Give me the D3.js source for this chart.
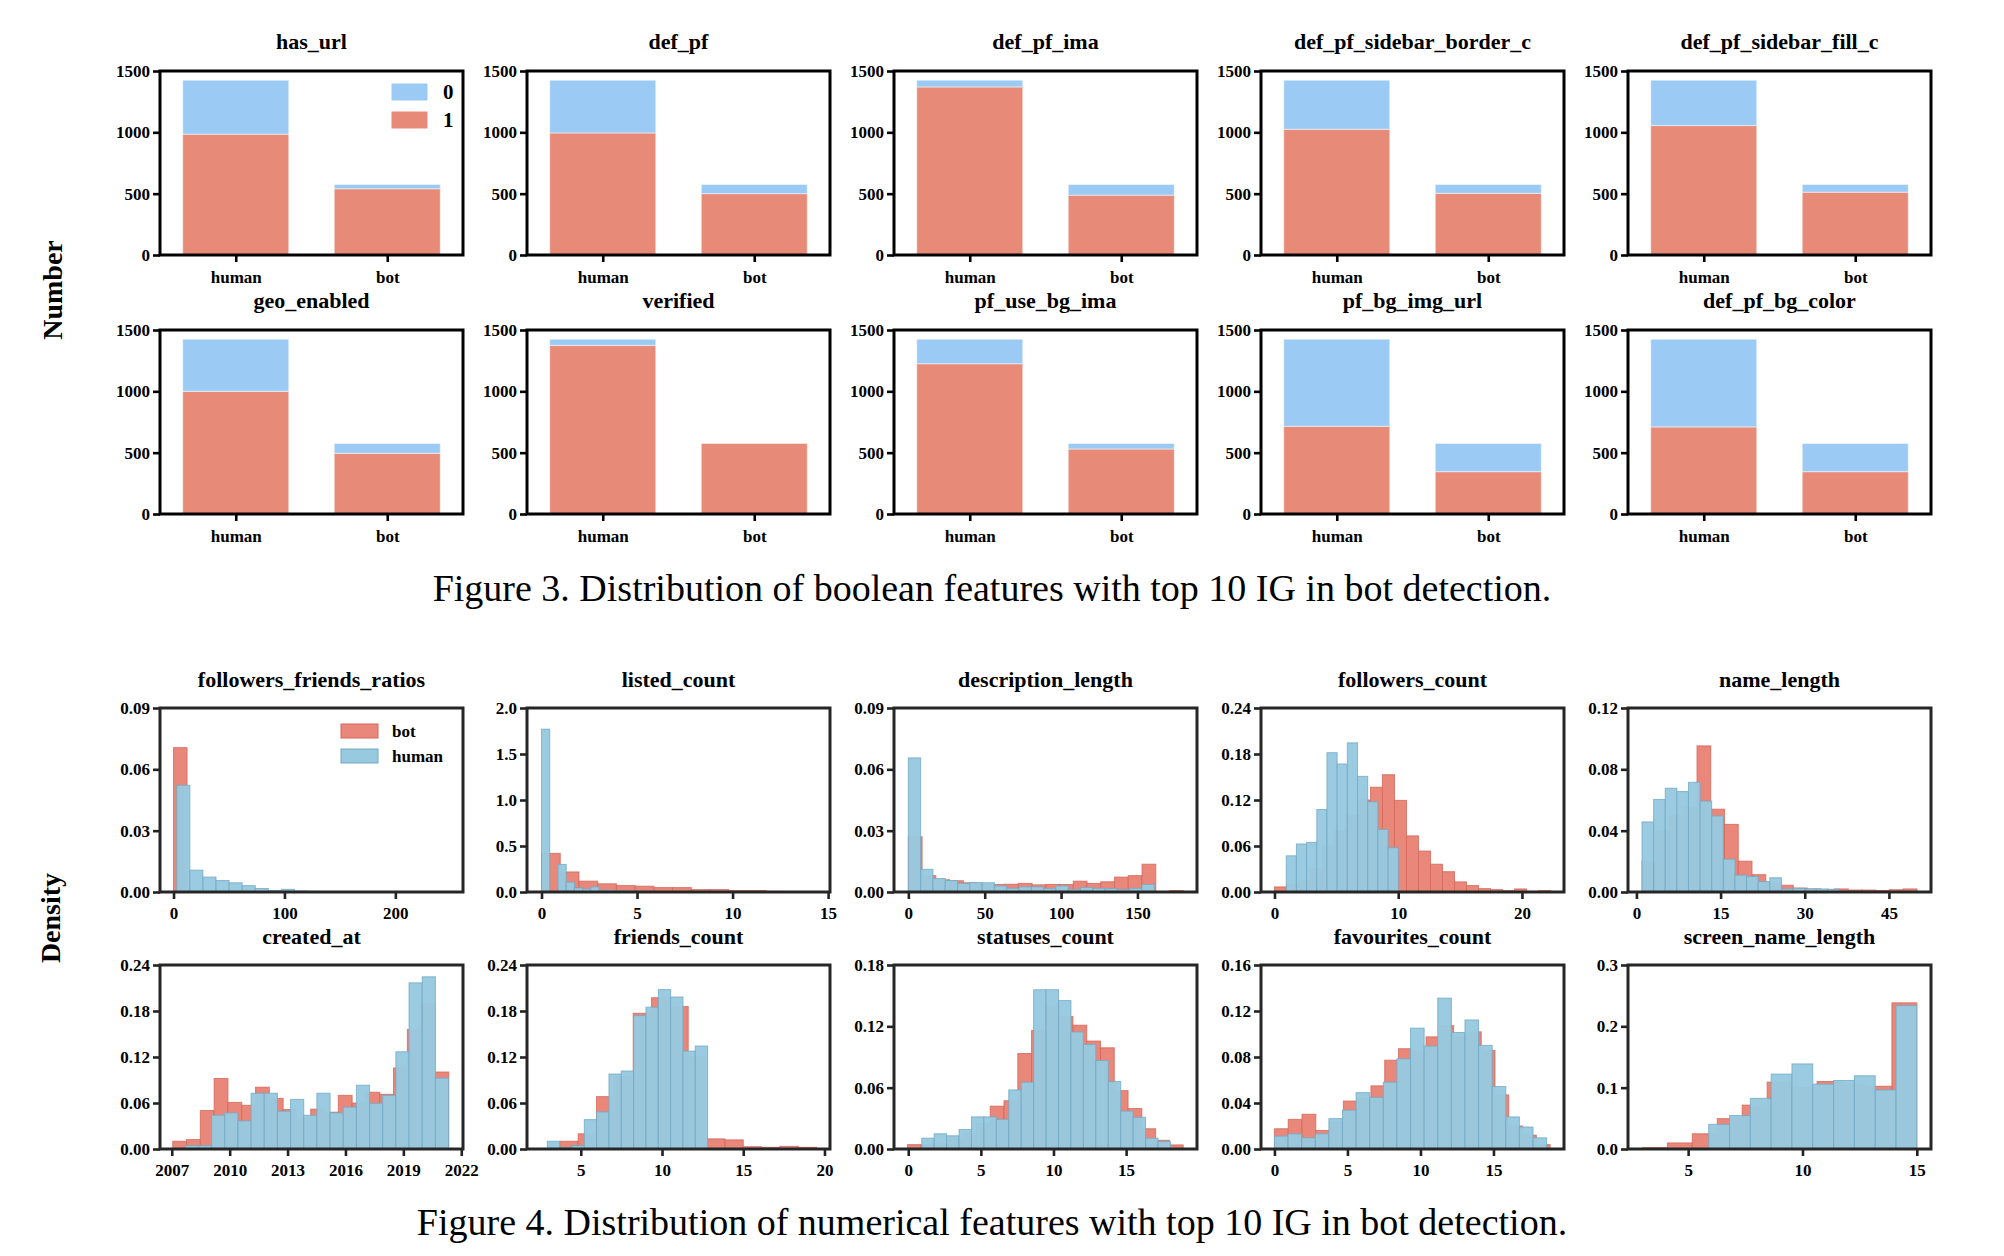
<!DOCTYPE html>
<html><head><meta charset="utf-8">
<script src="https://cdn.jsdelivr.net/npm/d3@7"></script>
<style>
body{margin:0;background:#fff}
svg{display:block}
text{font-family:"Liberation Serif","Times New Roman",serif}
</style>
</head><body>
<svg id="chart" width="2004" height="1256"></svg>
<script>
// ---------------- DATA: Figure 3 (boolean features) ----------------
const boolFeatures = ["has_url","def_pf","def_pf_ima","def_pf_sidebar_border_c","def_pf_sidebar_fill_c",
                      "geo_enabled","verified","pf_use_bg_ima","pf_bg_img_url","def_pf_bg_color"];
const classes = ["human","bot"];
const classTotals = [1425, 575];
const humanValue1 = [985, 995, 1370, 1025, 1055, 1000, 1375, 1225, 715, 710];
const botValue1   = [540, 500, 488, 503, 512, 495, 575, 530, 345, 345];
const boolYTicks = [0, 500, 1000, 1500];
const boolLegend = ["0", "1"];

// ---------------- DATA: Figure 4 (numerical features) ----------------
const numFeatures = ["followers_friends_ratios","listed_count","description_length","followers_count","name_length",
                     "created_at","friends_count","statuses_count","favourites_count","screen_name_length"];
// x limits of each panel
const numXLim = [[-12.2,261],[-0.76,15.1],[-9.4,189],[-1.09,23.4],[-1.5,52.5],
                 [2006.39,2022.09],[1.69,20.34],[-0.98,19.88],[-0.92,19.83],[2.37,15.62]];
const numXTicks = [[0,100,200],[0,5,10,15],[0,50,100,150],[0,10,20],[0,15,30,45],
                   [2007,2010,2013,2016,2019,2022],[5,10,15,20],[0,5,10,15],[0,5,10,15],[5,10,15]];
const numYTicks = [[0,0.03,0.06,0.09],[0,0.5,1.0,1.5,2.0],[0,0.03,0.06,0.09],[0,0.06,0.12,0.18,0.24],[0,0.04,0.08,0.12],
                   [0,0.06,0.12,0.18,0.24],[0,0.06,0.12,0.18,0.24],[0,0.06,0.12,0.18],[0,0.04,0.08,0.12,0.16],[0,0.1,0.2,0.3]];
const numYLabels = [["0.00","0.03","0.06","0.09"],["0.0","0.5","1.0","1.5","2.0"],["0.00","0.03","0.06","0.09"],
                    ["0.00","0.06","0.12","0.18","0.24"],["0.00","0.04","0.08","0.12"],["0.00","0.06","0.12","0.18","0.24"],
                    ["0.00","0.06","0.12","0.18","0.24"],["0.00","0.06","0.12","0.18"],["0.00","0.04","0.08","0.12","0.16"],
                    ["0.0","0.1","0.2","0.3"]];
// bins: [first edge, bin width] ; heights = density per bin
const ffrBotBins = [0, 12.2];
const ffrBot = [0.0706,0.0006,0.0003,0.0002,0.0001,0.0001,0,0,0,0,0,0,0,0,0,0,0,0,0,0.0001];
const ffrHumanBins = [2.9, 11.8];
const ffrHuman = [0.0522,0.0107,0.0073,0.0056,0.0045,0.0031,0.0017,0.0007,0.0013,0.0005,0.0003,0.0002,0.0001,0.0001,0.0001,0,0,0,0,0.0001];

const listedBotBins = [0, 0.98];
const listedBot = [0.42,0.218,0.118,0.089,0.07,0.063,0.048,0.048,0.026,0.026,0.015,0.015,0.007,0.004,0.003];
const listedHumanBins = [0, 0.43];
const listedHuman = [1.77,0,0.30,0.107,0.044,0.033,0.055,0.02,0.02,0.015,0.012,0.01,0.008,0.006,0.005,0.004,0.003,0.002,0.002,0.001];

const descBotBins = [0, 9.0];
const descBot = [0.027,0.008,0.006,0.0055,0.0045,0.004,0.0037,0.0038,0.0042,0.0035,0.0037,0.0037,0.0053,0.0042,0.005,0.0073,0.008,0.0136,0,0.0007];
const descHumanBins = [0, 8.05];
const descHuman = [0.0656,0.0111,0.0066,0.0056,0.0042,0.0046,0.0045,0.003,0.0018,0.0025,0.0025,0.0017,0.003,0.0013,0.0022,0.0018,0.0017,0.0013,0.0018,0.0037];

const followersBotBins = [0, 0.97];
const followersBot = [0.0066,0.01,0.015,0.03,0.06,0.08,0.1,0.12,0.1367,0.153,0.1195,0.0732,0.0534,0.0362,0.0265,0.0132,0.0084,0.0044,0.0031,0.0018,0.004,0.0009,0.0018];
const followersHumanBins = [0.95, 0.823];
const followersHuman = [0.0472,0.0626,0.0648,0.1076,0.1817,0.167,0.1945,0.1508,0.1177,0.0816,0.0578];

const nameBotBins = [1, 2.45];
const nameBot = [0.02,0.04,0.05,0.055,0.0953,0.054,0.0441,0.0201,0.0113,0.0055,0.0044,0.0026,0.002,0.0015,0.002,0.0013,0.0013,0.001,0.0015,0.002];
const nameHumanBins = [1, 2.07];
const nameHuman = [0.0457,0.0604,0.0677,0.0655,0.0715,0.0593,0.0496,0.0214,0.011,0.0101,0.0068,0.0093,0.002,0.0024,0.002,0.002,0.0018,0.0005,0.0003,0.0002];

const createdBotBins = [2007.05, 0.715];
const createdBot = [0.0101,0.0123,0.0502,0.092,0.0608,0.057,0.0806,0.066,0.0515,0.04,0.052,0.048,0.07,0.06,0.074,0.0713,0.1057,0.156,0.19,0.1004];
const createdHumanBins = [2007.7, 0.682];
const createdHuman = [0.0044,0.0044,0.044,0.0471,0.0366,0.0727,0.0727,0.0493,0.0647,0.044,0.0727,0.0471,0.0546,0.0832,0.0595,0.07,0.1268,0.2167,0.2246,0.0925];

const friendsBotBins = [3.71, 1.129];
const friendsBot = [0.0101,0.0198,0.0683,0.095,0.177,0.1973,0.1858,0.12,0.0132,0.0119,0.003,0.0022,0.0035,0.0022];
const friendsHumanBins = [2.94, 0.759];
const friendsHuman = [0.0101,0.0022,0.0044,0.0383,0.0484,0.0978,0.1017,0.174,0.185,0.2079,0.1982,0.1277,0.1343];

const statusesBotBins = [-0.05, 0.949];
const statusesBot = [0.0043,0.004,0.005,0.01,0.015,0.025,0.0419,0.0472,0.0934,0.116,0.14,0.1297,0.1211,0.1056,0.099,0.0571,0.0396,0.0198,0.0085,0.004];
const statusesHumanBins = [0.93, 0.856];
const statusesHuman = [0.0106,0.0149,0.0129,0.0191,0.0314,0.0314,0.029,0.0578,0.0653,0.1558,0.1558,0.1452,0.1145,0.1023,0.0865,0.066,0.037,0.031,0.0106,0.0073];

const favouritesBotBins = [0, 0.944];
const favouritesBot = [0.0176,0.0258,0.0302,0.0161,0.024,0.0417,0.044,0.0549,0.0772,0.0872,0.085,0.0975,0.1072,0.098,0.1019,0.0857,0.047,0.02,0.012,0.0038];
const favouritesHumanBins = [0, 0.932];
const favouritesHuman = [0.0112,0.0132,0.0097,0.0132,0.0264,0.0338,0.049,0.0449,0.0581,0.0784,0.1051,0.0895,0.1312,0.1013,0.1122,0.0901,0.0543,0.0279,0.0191,0.0097];

const screenBotBins = [3.0, 1.091];
const screenBot = [0.0022,0.0099,0.0248,0.0495,0.0715,0.109,0.1,0.11,0.105,0.1023,0.2383];
const screenHumanBins = [5.9, 0.91];
const screenHuman = [0.0402,0.0545,0.0826,0.1221,0.1387,0.1057,0.1117,0.1194,0.0963,0.2339];

const numLegend = ["bot", "human"];

const botSeries = [[ffrBotBins,ffrBot],[listedBotBins,listedBot],[descBotBins,descBot],[followersBotBins,followersBot],[nameBotBins,nameBot],
                   [createdBotBins,createdBot],[friendsBotBins,friendsBot],[statusesBotBins,statusesBot],[favouritesBotBins,favouritesBot],[screenBotBins,screenBot]];
const humanSeries = [[ffrHumanBins,ffrHuman],[listedHumanBins,listedHuman],[descHumanBins,descHuman],[followersHumanBins,followersHuman],[nameHumanBins,nameHuman],
                     [createdHumanBins,createdHuman],[friendsHumanBins,friendsHuman],[statusesHumanBins,statusesHuman],[favouritesHumanBins,favouritesHuman],[screenHumanBins,screenHuman]];

// ---------------- LAYOUT / STYLE ----------------
const FONT = '"Liberation Serif","Times New Roman",serif';
const svg = d3.select("#chart");
const colLeft = [160, 527, 894, 1261, 1628];
const PW = 303, PH = 184;
const fig3Top = [71, 330];
const fig4Top = [708, 965];
const C_BLUE3 = "#9bcbf4", C_RED3 = "#e88a78";
const C_BOT = "#e8877a", C_BOT_EDGE = "#d4685a";
const C_HUM = "#97c9df", C_HUM_EDGE = "#72aac6";

function styleAxis(g, color, size) {
  g.attr("font-family", FONT).attr("font-size", size).attr("font-weight", "bold");
  g.select(".domain").remove();
  g.selectAll(".tick line").attr("stroke", color).attr("stroke-width", 2.6);
  g.selectAll(".tick text").attr("fill", "#000");
}

function title(x, y, txt) {
  svg.append("text").attr("x", x).attr("y", y).attr("text-anchor", "middle")
    .attr("font-size", 22).attr("font-weight", "bold").text(txt);
}

// ---------------- FIGURE 3 ----------------
boolFeatures.forEach((name, i) => {
  const r = Math.floor(i / 5), c = i % 5;
  const x0 = colLeft[c], y0 = fig3Top[r];
  const g = svg.append("g");
  const x = d3.scaleLinear().domain([-0.5, 1.5]).range([x0, x0 + PW]);
  const y = d3.scaleLinear().domain([0, 1500]).range([y0 + PH, y0]);
  const ones = [humanValue1[i], botValue1[i]];
  const bw = x(0.35) - x(-0.35);
  classes.forEach((cl, k) => {
    g.append("rect").attr("x", x(k - 0.35)).attr("width", bw)
      .attr("y", y(ones[k])).attr("height", y(0) - y(ones[k]))
      .attr("fill", C_RED3).attr("stroke", "#fff").attr("stroke-opacity", 0.5).attr("stroke-width", 1);
    const zeros = classTotals[k] - ones[k];
    if (zeros > 0) {
      g.append("rect").attr("x", x(k - 0.35)).attr("width", bw)
        .attr("y", y(classTotals[k])).attr("height", y(ones[k]) - y(classTotals[k]))
        .attr("fill", C_BLUE3).attr("stroke", "#fff").attr("stroke-opacity", 0.5).attr("stroke-width", 1);
    }
  });
  const ya = g.append("g").attr("transform", `translate(${x0},0)`)
    .call(d3.axisLeft(y).tickValues(boolYTicks).tickSize(7).tickPadding(3).tickFormat(d3.format("d")));
  styleAxis(ya, "#000", 17);
  const xa = g.append("g").attr("transform", `translate(0,${y0 + PH})`)
    .call(d3.axisBottom(x).tickValues([0, 1]).tickSize(7).tickPadding(9).tickFormat(d => classes[d]));
  styleAxis(xa, "#000", 17);
  g.append("rect").attr("x", x0).attr("y", y0).attr("width", PW).attr("height", PH)
    .attr("fill", "none").attr("stroke", "#000").attr("stroke-width", 3);
  title(x0 + PW / 2, y0 - 22, name);
  if (i === 0) {
    const lg = g.append("g");
    [C_BLUE3, C_RED3].forEach((col, k) => {
      lg.append("rect").attr("x", x0 + 231).attr("y", y0 + 12 + k * 28).attr("width", 37).attr("height", 18)
        .attr("fill", col).attr("stroke", "#fff").attr("stroke-width", 1);
      lg.append("text").attr("x", x0 + 283).attr("y", y0 + 28 + k * 28)
        .attr("font-size", 21).attr("font-weight", "bold").text(boolLegend[k]);
    });
  }
});

svg.append("text").attr("transform", "translate(62,290) rotate(-90)").attr("text-anchor", "middle")
  .attr("font-size", 28).attr("font-weight", "bold").text("Number");
svg.append("text").attr("x", 992).attr("y", 601).attr("text-anchor", "middle")
  .attr("font-size", 38).text("Figure 3. Distribution of boolean features with top 10 IG in bot detection.");

// ---------------- FIGURE 4 ----------------
numFeatures.forEach((name, i) => {
  const r = Math.floor(i / 5), c = i % 5;
  const x0 = colLeft[c], y0 = fig4Top[r];
  const g = svg.append("g");
  const x = d3.scaleLinear().domain(numXLim[i]).range([x0, x0 + PW]);
  const yt = numYTicks[i];
  const y = d3.scaleLinear().domain([0, yt[yt.length - 1]]).range([y0 + PH, y0]);
  const drawHist = (series, fill, edge, op) => {
    const [bins, hs] = series;
    g.append("g").selectAll("rect").data(hs).join("rect")
      .attr("x", (d, k) => x(bins[0] + k * bins[1]))
      .attr("width", (d, k) => x(bins[0] + (k + 1) * bins[1]) - x(bins[0] + k * bins[1]))
      .attr("y", d => y(d)).attr("height", d => y(0) - y(d))
      .attr("fill", fill).attr("fill-opacity", op)
      .attr("stroke", edge).attr("stroke-width", 1).attr("stroke-opacity", 0.8);
  };
  drawHist(botSeries[i], C_BOT, C_BOT_EDGE, 1);
  drawHist(humanSeries[i], C_HUM, C_HUM_EDGE, 0.97);
  const ya = g.append("g").attr("transform", `translate(${x0},0)`)
    .call(d3.axisLeft(y).tickValues(yt).tickSize(7).tickPadding(3).tickFormat((d, k) => numYLabels[i][k]));
  styleAxis(ya, "#222", 17);
  const xa = g.append("g").attr("transform", `translate(0,${y0 + PH})`)
    .call(d3.axisBottom(x).tickValues(numXTicks[i]).tickSize(7).tickPadding(8).tickFormat(d3.format("d")));
  styleAxis(xa, "#222", 17);
  g.append("rect").attr("x", x0).attr("y", y0).attr("width", PW).attr("height", PH)
    .attr("fill", "none").attr("stroke", "#262626").attr("stroke-width", 3);
  title(x0 + PW / 2, y0 - 21, name);
  if (i === 0) {
    [[C_BOT, C_BOT_EDGE], [C_HUM, C_HUM_EDGE]].forEach((cc, k) => {
      g.append("rect").attr("x", x0 + 181).attr("y", y0 + 16 + k * 25).attr("width", 37).attr("height", 14)
        .attr("fill", cc[0]).attr("stroke", cc[1]).attr("stroke-width", 1);
      g.append("text").attr("x", x0 + 232).attr("y", y0 + 29 + k * 25)
        .attr("font-size", 17).attr("font-weight", "bold").text(numLegend[k]);
    });
  }
});

svg.append("text").attr("transform", "translate(60,918) rotate(-90)").attr("text-anchor", "middle")
  .attr("font-size", 28).attr("font-weight", "bold").text("Density");
svg.append("text").attr("x", 992).attr("y", 1235).attr("text-anchor", "middle")
  .attr("font-size", 38).text("Figure 4. Distribution of numerical features with top 10 IG in bot detection.");
</script>
</body></html>
